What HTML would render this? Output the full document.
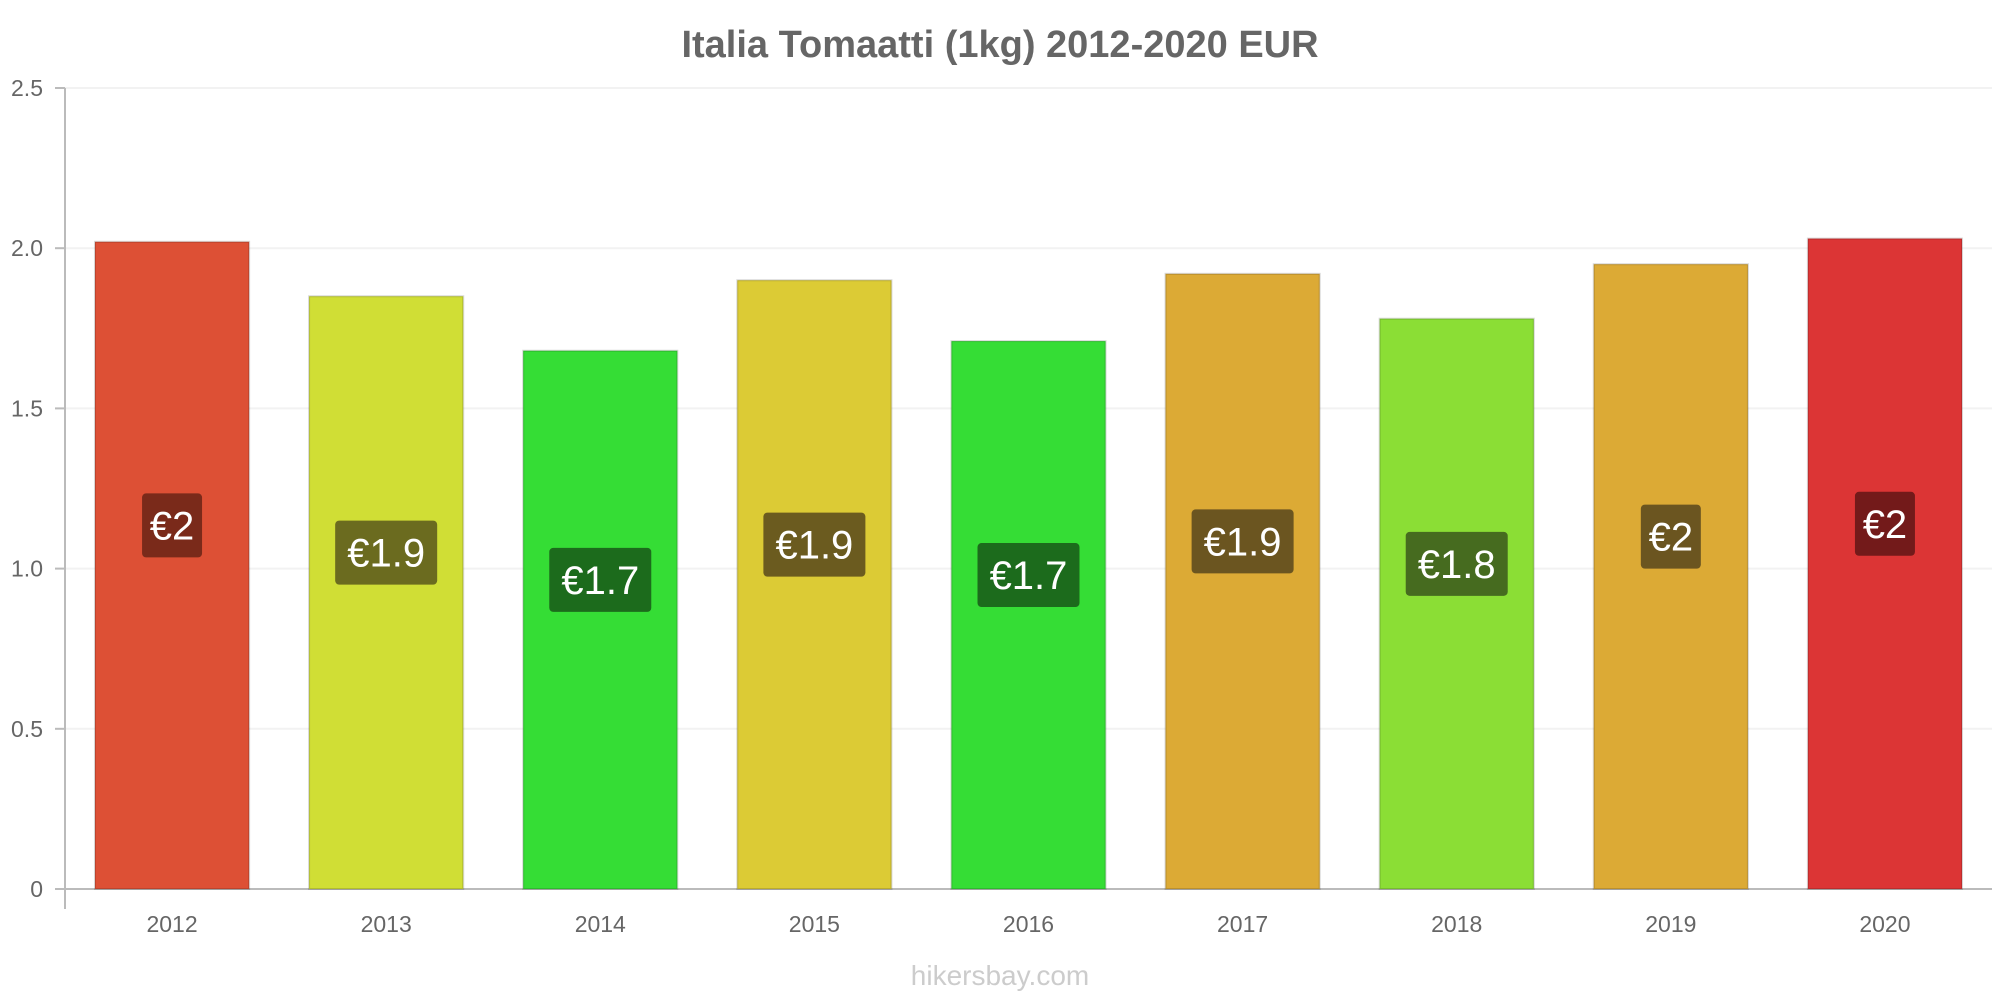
<!DOCTYPE html>
<html><head><meta charset="utf-8"><style>
body{margin:0;background:#fff}
svg{display:block;font-family:"Liberation Sans",sans-serif}
</style></head><body>
<svg id="chart" width="2000" height="1000">
<text x="1000" y="57" text-anchor="middle" font-size="38" font-weight="bold" fill="#666">Italia Tomaatti (1kg) 2012-2020 EUR</text>
<text x="1000" y="985" text-anchor="middle" font-size="28" fill="#ccc">hikersbay.com</text>
<g id="grid"></g><g id="bars"></g><g id="axes"></g>
</svg>
<script>
const categories=["2012","2013","2014","2015","2016","2017","2018","2019","2020"];
const values=[2.02,1.85,1.68,1.90,1.71,1.92,1.78,1.95,2.03];
const valueLabels=["€2","€1.9","€1.7","€1.9","€1.7","€1.9","€1.8","€2","€2"];
const yTicks=[0,0.5,1.0,1.5,2.0,2.5];
const yTickLabels=["0","0.5","1.0","1.5","2.0","2.5"];
const barColors=["#dd5035","#d0de35","#35dd35","#dccb35","#35dd35","#dcaa35","#8bde35","#dcaa35","#dc3535"];
const labelColors=["#7a2a1a","#6b6b1f","#1c6b1c","#6b5b1f","#1c6b1c","#6b5520","#466b1f","#6b5520","#731a1a"];
const NS="http://www.w3.org/2000/svg";
const X0=65,X1=1992,Y0=889,Y1=88,YMAX=2.5;
const band=(X1-X0)/categories.length;
const y=v=>Y0-(v/YMAX)*(Y0-Y1);
const xc=i=>X0+band*(i+0.5);
function mk(tag,attrs,parent){const e=document.createElementNS(NS,tag);for(const k in attrs)e.setAttribute(k,attrs[k]);parent.appendChild(e);return e;}
const grid=document.getElementById('grid'),bars=document.getElementById('bars'),axes=document.getElementById('axes');
yTicks.forEach((t,i)=>{
  const l=mk('line',{x1:X0,x2:X1,y1:y(t),y2:y(t),stroke:t===0?'#bbb':'#f2f2f2','stroke-width':2},grid);
  
  
  const tk=mk('line',{x1:X0-10,x2:X0,y1:y(t),y2:y(t),stroke:'#bbb','stroke-width':2},axes);
  
  
  const tx=mk('text',{x:X0-22,y:y(t)+8,'text-anchor':'end','font-size':23,fill:'#666'},axes);
  tx.textContent=yTickLabels[i];
  
  
});
const ax=mk('line',{x1:X0,x2:X0,y1:Y1,y2:Y0+20,stroke:'#bbb','stroke-width':2},axes);


categories.forEach((c,i)=>{
  const bw=band*0.72,top=y(values[i]);
  const r=mk('rect',{x:xc(i)-bw/2,y:top,width:bw,height:Y0-top,fill:barColors[i],stroke:'rgba(0,0,0,0.15)','stroke-width':2},bars);
  
  
  const cy=(top+Y0)/2-40;
  const w=valueLabels[i].length*21+18;
  const lb=mk('rect',{x:xc(i)-w/2,y:cy-32,width:w,height:64,rx:4,fill:labelColors[i]},bars);
  
  
  const lt=mk('text',{x:xc(i),y:cy+14,'text-anchor':'middle','font-size':40,fill:'#fff'},bars);
  lt.textContent=valueLabels[i];
  
  
  const xt=mk('text',{x:xc(i),y:932,'text-anchor':'middle','font-size':23,fill:'#666'},axes);
  xt.textContent=c;
  
  
});
</script>
</body></html>
